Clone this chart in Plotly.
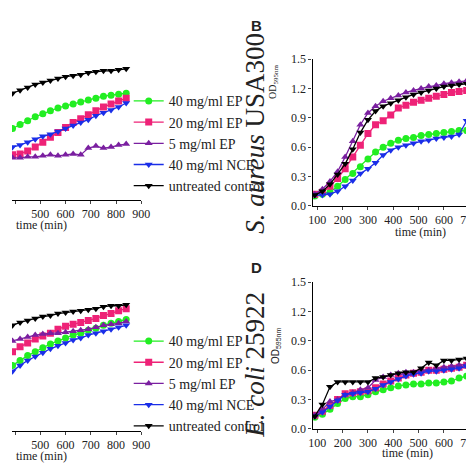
import plotly.graph_objects as go

t_left = [390,420,450,480,510,540,570,600,630,660,690,720,750,780,810,840]
t_right = [90,120,150,180,210,240,270,300,330,360,390,420,450,480,510,540,570,600,630,660,690,720]
names = ["40 mg/ml EP","20 mg/ml EP","5 mg/ml EP","40 mg/ml NCE","untreated control"]
colors = ["#22ee22","#ee2277","#7a1fa0","#1a2ee8","#000000"]
symbols = ["circle","square","triangle-up","triangle-down","triangle-down"]

A = [
 [0.73,0.77,0.81,0.85,0.88,0.91,0.94,0.96,0.98,1.0,1.02,1.04,1.06,1.07,1.08,1.09],
 [0.46,0.47,0.5,0.54,0.59,0.64,0.69,0.74,0.79,0.83,0.87,0.91,0.95,0.98,1.01,1.04],
 [0.43,0.43,0.44,0.44,0.45,0.46,0.45,0.46,0.47,0.46,0.53,0.55,0.53,0.54,0.56,0.57],
 [0.54,0.56,0.59,0.62,0.65,0.67,0.7,0.73,0.76,0.79,0.82,0.86,0.89,0.92,0.95,0.99],
 [1.09,1.12,1.15,1.18,1.2,1.22,1.24,1.26,1.27,1.28,1.3,1.31,1.32,1.32,1.33,1.34],
]
B = [
 [0.1,0.12,0.14,0.2,0.27,0.33,0.4,0.48,0.55,0.6,0.64,0.67,0.69,0.7,0.72,0.73,0.74,0.75,0.76,0.77,0.77,0.78],
 [0.12,0.14,0.2,0.28,0.38,0.5,0.62,0.74,0.83,0.87,0.93,1.0,1.03,1.06,1.08,1.1,1.12,1.14,1.16,1.17,1.18,1.2],
 [0.12,0.17,0.25,0.35,0.5,0.66,0.83,0.95,1.02,1.07,1.1,1.13,1.16,1.18,1.2,1.22,1.23,1.25,1.26,1.27,1.28,1.29],
 [0.11,0.11,0.12,0.15,0.2,0.26,0.33,0.38,0.44,0.52,0.57,0.6,0.62,0.64,0.66,0.67,0.69,0.7,0.71,0.73,0.87,0.92],
 [0.11,0.15,0.22,0.32,0.43,0.58,0.75,0.88,0.97,1.02,1.05,1.08,1.11,1.14,1.16,1.18,1.2,1.22,1.23,1.24,1.25,1.26],
]
C = [
 [0.67,0.72,0.77,0.81,0.85,0.89,0.92,0.95,0.98,1.0,1.03,1.05,1.08,1.1,1.12,1.14],
 [0.81,0.86,0.9,0.94,0.97,1.0,1.04,1.07,1.09,1.11,1.13,1.15,1.18,1.2,1.23,1.25],
 [0.92,0.94,0.96,0.98,0.99,1.0,1.0,1.01,1.02,1.03,1.04,1.06,1.08,1.09,1.1,1.12],
 [0.61,0.67,0.72,0.76,0.8,0.84,0.87,0.9,0.93,0.95,0.98,1.0,1.02,1.04,1.06,1.08],
 [1.08,1.11,1.13,1.15,1.17,1.18,1.2,1.21,1.22,1.23,1.24,1.25,1.27,1.28,1.28,1.29],
]
D = [
 [0.12,0.15,0.2,0.26,0.31,0.33,0.33,0.35,0.38,0.4,0.42,0.44,0.45,0.46,0.46,0.47,0.47,0.48,0.49,0.52,0.54,0.55],
 [0.14,0.18,0.24,0.3,0.36,0.37,0.38,0.39,0.42,0.46,0.49,0.52,0.55,0.57,0.58,0.6,0.6,0.61,0.62,0.63,0.65,0.66],
 [0.14,0.2,0.28,0.3,0.35,0.37,0.4,0.42,0.5,0.53,0.55,0.57,0.58,0.58,0.6,0.6,0.62,0.63,0.64,0.65,0.66,0.67],
 [0.13,0.17,0.23,0.29,0.35,0.36,0.37,0.38,0.41,0.45,0.48,0.51,0.54,0.56,0.57,0.59,0.59,0.6,0.61,0.62,0.64,0.65],
 [0.13,0.25,0.43,0.48,0.48,0.48,0.48,0.48,0.52,0.53,0.55,0.57,0.58,0.58,0.62,0.68,0.65,0.7,0.7,0.71,0.72,0.72],
]

fig = go.Figure()
panels = [(A, t_left, "x", "y", "legend"), (B, t_right, "x2", "y2", None),
          (C, t_left, "x3", "y3", "legend2"), (D, t_right, "x4", "y4", None)]
for data, t, xa, ya, lg in panels:
    for i in range(5):
        fig.add_trace(go.Scatter(
            x=t, y=data[i], xaxis=xa, yaxis=ya, name=names[i],
            mode="lines+markers", line=dict(color=colors[i], width=1.3),
            marker=dict(color=colors[i], symbol=symbols[i], size=7),
            showlegend=lg is not None, legend=lg if lg else "legend"))

H = 474.0
def py(p): return 1 - ((p - 15) / 0.966) / H
tf = dict(family="Liberation Serif", size=12, color="#222")
common = dict(showgrid=False, zeroline=False, showline=True, linecolor="black",
              linewidth=1.2, ticks="outside", ticklen=3, tickfont=tf)

lay = dict(width=474, height=474, margin=dict(l=0, r=0, t=0, b=0),
           plot_bgcolor="white", paper_bgcolor="white")
lay["xaxis"] = dict(common, domain=[0, 133/H], range=[388, 900], dtick=100, anchor="y")
lay["yaxis"] = dict(common, domain=[py(199), py(53)], range=[0, 1.5], visible=False, anchor="x")
lay["xaxis2"] = dict(common, domain=[309/H, 1], range=[81, 715], dtick=100, anchor="y2")
lay["yaxis2"] = dict(common, domain=[py(205), py(59)], range=[0, 1.5], dtick=0.3, tickformat=".1f", anchor="x2")
lay["xaxis3"] = dict(common, domain=[0, 133/H], range=[388, 900], dtick=100, anchor="y3")
lay["yaxis3"] = dict(common, domain=[py(429), py(283)], range=[0, 1.5], visible=False, anchor="x3")
lay["xaxis4"] = dict(common, domain=[309/H, 1], range=[81, 715], dtick=100, anchor="y4")
lay["yaxis4"] = dict(common, domain=[py(427), py(281)], range=[0, 1.5], dtick=0.3, tickformat=".1f", anchor="x4")
lf = dict(family="Liberation Serif", size=14, color="#222")
lay["legend"] = dict(x=120/H, y=py(85), xanchor="left", yanchor="top", font=lf, itemwidth=30,
                     bgcolor="rgba(0,0,0,0)", tracegroupgap=0)
lay["legend2"] = dict(x=120/H, y=py(324), xanchor="left", yanchor="top", font=lf, itemwidth=30,
                      bgcolor="rgba(0,0,0,0)", tracegroupgap=0)
fig.update_layout(**lay)

def ann(x, y, text, size, angle=0, family="Liberation Serif", xanchor="center"):
    fig.add_annotation(x=x/H, y=py(y), xref="paper", yref="paper", text=text, showarrow=False,
                       textangle=angle, xanchor=xanchor, yanchor="middle",
                       font=dict(family=family, size=size, color="#222"))
ann(2, 224, "time (min)", 12, xanchor="left")
ann(2, 454, "time (min)", 12, xanchor="left")
ann(420, 231, "time (min)", 12)
ann(407, 451, "time (min)", 12)
ann(251, 25, "<b>B</b>", 15, family="Liberation Sans")
ann(251, 266, "<b>D</b>", 15, family="Liberation Sans")
ann(249, 133, "<i>S. aureus</i> USA300", 27, angle=-90)
ann(249, 363, "<i>E. coli</i> 25922", 27, angle=-90)
ann(269, 82, "OD<sub>595nm</sub>", 10, angle=-90)
ann(271, 344, "OD<sub>595nm</sub>", 10, angle=-90, family="Liberation Sans")
fig.write_html("out.html")
